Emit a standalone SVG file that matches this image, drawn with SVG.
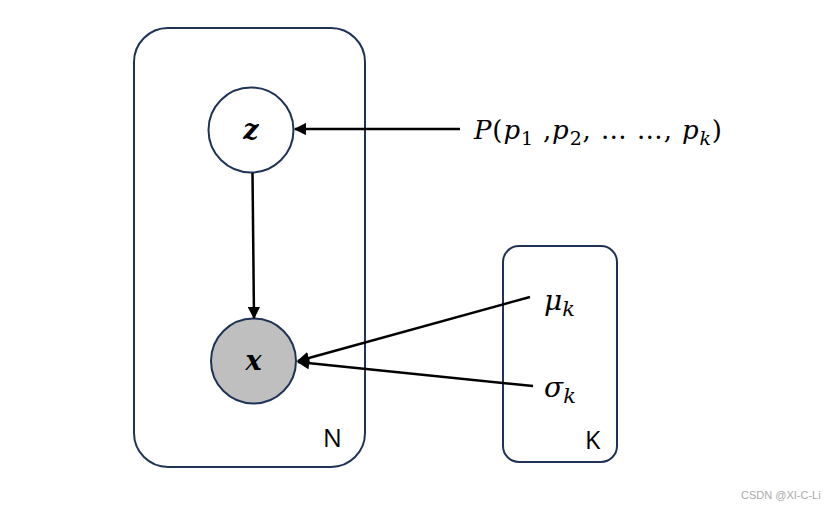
<svg xmlns="http://www.w3.org/2000/svg" width="840" height="510" viewBox="0 0 840 510">
<style>
.plate{fill:none;stroke:#1f3357;stroke-width:2}
.node{stroke:#1f3357;stroke-width:2}
.m{font-family:"DejaVu Serif","Liberation Serif",serif;font-style:italic;fill:#000}
.lbl{font-family:"Open Sans","Liberation Sans",sans-serif;fill:#000;font-size:25px}
.e{stroke:#000;stroke-width:2.5;fill:none}
</style>
<defs>
<marker id="ah" viewBox="0 0 10 10" refX="9" refY="5" markerWidth="5" markerHeight="5" orient="auto" markerUnits="strokeWidth">
<path d="M0,0 L10,5 L0,10 z" fill="#000"/>
</marker>
</defs>
<rect width="840" height="510" fill="#fff"/>
<g id="plateN">
<rect class="plate" x="134" y="28" width="231" height="439" rx="34"/>
<text class="lbl" x="323" y="447">N</text>
</g>
<g id="plateK">
<rect class="plate" x="503" y="246" width="114" height="216" rx="16"/>
<text class="lbl" x="585" y="449">K</text>
</g>
<g id="z">
<circle class="node" cx="251" cy="130" r="42.5" fill="#fff"/>
<text class="m" x="251" y="139" font-size="27" font-weight="bold" text-anchor="middle">z</text>
</g>
<g id="x">
<circle class="node" cx="253.5" cy="361" r="42.5" fill="#bfbfbf"/>
<text class="m" x="253.5" y="370" font-size="27" font-weight="bold" text-anchor="middle">x</text>
</g>
<g id="P">
<text class="m" x="474" y="139" font-size="26" textLength="248" lengthAdjust="spacing">P<tspan font-style="normal">(</tspan>p<tspan font-style="normal" font-size="19" dy="6">1</tspan><tspan dy="-6" font-style="normal"> ,</tspan>p<tspan font-style="normal" font-size="19" dy="6">2</tspan><tspan dy="-6" font-style="normal">, … …, </tspan>p<tspan font-size="19" dy="6">k</tspan><tspan dy="-6" font-style="normal">)</tspan></text>
</g>
<g id="mu">
<text class="m" x="544" y="310" font-size="28">μ<tspan font-size="21" dy="6">k</tspan></text>
</g>
<g id="sigma">
<text class="m" x="544" y="397" font-size="28">σ<tspan font-size="21" dy="6">k</tspan></text>
</g>
<g id="connectors">
<line class="e" x1="460" y1="129" x2="295" y2="129" marker-end="url(#ah)"/>
<line class="e" x1="252.5" y1="173" x2="254" y2="318" marker-end="url(#ah)"/>
<line class="e" x1="530" y1="297" x2="298" y2="361" marker-end="url(#ah)"/>
<line class="e" x1="533" y1="386" x2="298" y2="362" marker-end="url(#ah)"/>
</g>
<text x="741" y="499" font-family="Liberation Sans,Arial,sans-serif" font-size="11" fill="#aaa">CSDN @XI-C-Li</text>
</svg>
